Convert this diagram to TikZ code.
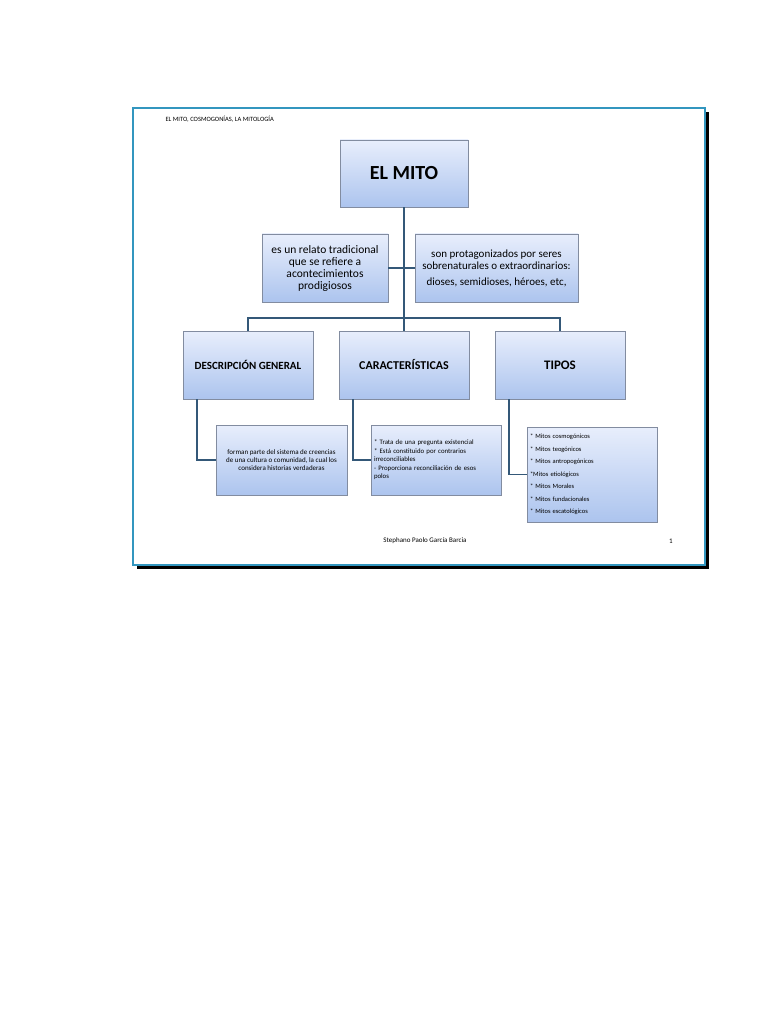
\documentclass[tikz,border=0pt]{standalone}
\usepackage{fontspec}
\setmainfont{Carlito}
\definecolor{boxb}{RGB}{172,196,238}
\definecolor{boxt}{RGB}{232,238,252}
\definecolor{lnc}{RGB}{52,88,120}
\definecolor{bdc}{RGB}{130,140,160}
\begin{document}
\begin{tikzpicture}[x=1pt,y=-1pt,
 bx/.style={draw=bdc,top color=boxt,bottom color=boxb,align=center,inner sep=2pt},
 ln/.style={draw=lnc,line width=1.6pt}]
\useasboundingbox (0,0) rectangle (768,1024);
\fill[black] (137,112) rectangle (709,569);
\draw[draw=cyan!50!teal,line width=2pt,fill=white] (133,108) rectangle (705,565);
\node[anchor=west,font=\fontsize{6.5}{7}\selectfont] (hdr) at (162,119) {EL MITO, COSMOGONÍAS, LA MITOLOGÍA};
\node[bx,minimum width=128,minimum height=67,font=\bfseries\fontsize{20}{22}\selectfont] (mito) at (404,173.5) {EL MITO};
\node[bx,minimum width=126,minimum height=68,font=\fontsize{11.5}{12}\selectfont] (l) at (325,268) {es un relato tradicional\\que se refiere a\\acontecimientos\\prodigiosos};
\node[bx,minimum width=163,minimum height=68,font=\fontsize{11}{12.5}\selectfont] (r) at (496.5,268) {son protagonizados por seres\\sobrenaturales o extraordinarios:\\[3pt]dioses, semidioses, héroes, etc,};
\node[bx,minimum width=130,minimum height=68,font=\bfseries\fontsize{11}{12}\selectfont] (dg) at (248,365) {DESCRIPCIÓN GENERAL};
\node[bx,minimum width=130,minimum height=68,font=\bfseries\fontsize{12}{12}\selectfont] (car) at (404,365) {CARACTERÍSTICAS};
\node[bx,minimum width=130,minimum height=68,font=\bfseries\fontsize{13}{12}\selectfont] (tip) at (560,365) {TIPOS};
\node[bx,minimum width=131,minimum height=70,font=\fontsize{7}{8}\selectfont] (dgs) at (281.5,460) {forman parte del sistema de creencias\\de una cultura o comunidad, la cual los\\considera historias verdaderas};
\node[bx,minimum width=130,minimum height=70,align=left,text width=124,font=\fontsize{6.8}{8.5}\selectfont] (cars) at (436,460) {{}* Trata de una pregunta existencial\\{}* Está constituido por contrarios\\irreconciliables\\{}- Proporciona reconciliación de esos\\polos};
\node[bx,minimum width=130,minimum height=95,align=left,text width=124,font=\fontsize{6.5}{12.5}\selectfont] (tips) at (592,474.5) {{}* Mitos cosmogónicos\\{}* Mitos teogónicos\\{}* Mitos antropogónicos\\{}*Mitos etiológicos\\{}* Mitos Morales\\{}* Mitos fundacionales\\{}* Mitos escatológicos};
\node[font=\fontsize{7}{8}\selectfont] (ft) at (425,541) {Stephano Paolo García Barcia};
\node[font=\fontsize{7}{8}\selectfont] (pg) at (671,541) {1};
\coordinate (j) at (404,318);
\draw[ln] (mito.south) -- (j);
\draw[ln] (l.east) -- (r.west);
\draw[ln] (dg.north) -- (dg.north|-j) -- (tip.north|-j) -- (tip.north);
\draw[ln] (j) -- (car.north);
\draw[ln] (197,399) |- (dgs.west);
\draw[ln] (353,399) |- (cars.west);
\draw[ln] (509,399) |- (tips.west);
\end{tikzpicture}
\end{document}
